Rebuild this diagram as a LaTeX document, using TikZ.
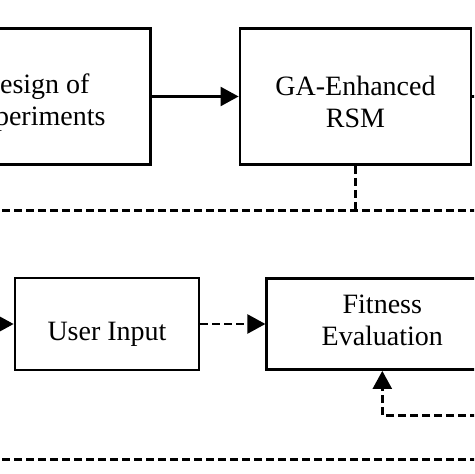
\documentclass[tikz,border=0pt]{standalone}
\usepackage{fontspec}
\setmainfont{Liberation Serif}
\usetikzlibrary{positioning, arrows.meta}
\tikzset{StageBox/.style={%
    shape=rectangle,%
    draw=black,%
    line width=1.4pt,%
    minimum width=115.5pt,%
    minimum height=68pt,%
    inner sep=2pt,%
    align=center,%
    font=\fontsize{14}{16}\selectfont,%
}}
\tikzset{InputBox/.style={%
    StageBox,%
    minimum width=92pt,%
    minimum height=46pt,%
}}
\tikzset{EvalBox/.style={%
    StageBox,%
    minimum height=45.5pt,%
}}
\tikzset{SolidFlow/.style={%
    -{Triangle[length=9pt,width=9.5pt]},%
    line width=1.1pt,%
}}
\tikzset{DashedLink/.style={%
    line width=1.2pt,%
    dash pattern=on 4pt off 2pt,%
}}
\tikzset{DashedFlow/.style={%
    SolidFlow,%
    DashedLink,%
}}

\begin{document}
\begin{tikzpicture}[x=0.5pt, y=-0.5pt]
    \useasboundingbox (0,0) rectangle (474,474);
    \clip (0,0) rectangle (474,474);

    \node[StageBox, text height=31.5pt] (rsm) at (355.5,96.5) {GA-Enhanced\\RSM};
    \node[StageBox, text height=31.5pt, left=43.5pt of rsm] (doe) {Design of\\Experiments};
    \node[InputBox, text height=19.6pt] (input) at (107,324) {User Input};
    \node[EvalBox, text height=21.6pt, right=32.5pt of input] (fitness) {Fitness\\Evaluation};

    \coordinate (rsmOut) at (490,96.5);
    \coordinate (busTopL) at (-10,210.5);
    \coordinate (busTopR) at (490,210.5);
    \coordinate (inputIn) at (-30,324);
    \coordinate (evalBack) at (490,415.5);
    \coordinate (busLowL) at (-10,459.5);
    \coordinate (busLowR) at (490,459.5);

    \draw[SolidFlow] (doe) -- (rsm);
    \draw[line width=1.1pt] (rsm.east) -- (rsmOut);
    \draw[DashedLink] (rsm.south) -- (rsm.south |- busTopL);
    \draw[DashedLink] (busTopL) -- (busTopR);

    \draw[SolidFlow] (inputIn) -- (input.west);
    \draw[DashedFlow] (input) -- (fitness);
    \draw[DashedFlow] (evalBack) -| (fitness.south);
    \draw[DashedLink] (busLowL) -- (busLowR);
\end{tikzpicture}
\end{document}
